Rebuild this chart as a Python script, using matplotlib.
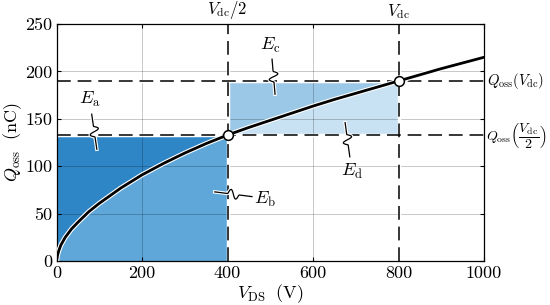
import numpy as np
import matplotlib
matplotlib.use("Agg")
import matplotlib.pyplot as plt
import matplotlib.patheffects as pe

plt.rcParams['font.family'] = 'serif'
plt.rcParams['font.serif'] = ['cmr10']
plt.rcParams['mathtext.fontset'] = 'cm'
plt.rcParams['axes.unicode_minus'] = False

# Qoss curve
vds = np.array([0, 2, 5, 10, 20, 35, 50, 75, 100, 150, 200, 250, 300, 350, 400,
                450, 500, 550, 600, 650, 700, 750, 800, 900, 1000])
qoss = np.array([0, 6, 11, 17, 25, 34, 41, 52, 61, 77, 91, 103, 114, 124, 133,
                 141, 148.5, 156, 163.5, 170.5, 177, 183.5, 190, 203, 215])

vdc = 800
vhalf = 400
q_half = 133
q_full = 190

xticks = [0, 200, 400, 600, 800, 1000]
yticks = [0, 50, 100, 150, 200, 250]

c_a = '#2f86c6'
c_b = '#5fa7d8'
c_c = '#9cc8e7'
c_d = '#c8e1f3'

fig = plt.figure(figsize=(5.5, 3.05), dpi=100)
ax = fig.add_axes([0.103, 0.144, 0.777, 0.777])
ax.set_xlim(0, 1000)
ax.set_ylim(0, 250)

left = vds <= vhalf
mid = (vds >= vhalf) & (vds <= vdc)
ax.fill_between(vds[left], qoss[left], q_half, color=c_a, lw=0)
ax.fill_between(vds[left], 0, qoss[left], color=c_b, lw=0)
ax.fill_between(vds[mid], qoss[mid], q_full, color=c_c, lw=0)
ax.fill_between(vds[mid], q_half, qoss[mid], color=c_d, lw=0)

ax.grid(True, color='k', alpha=0.25, lw=0.6)

dash = (0, (9, 4.5))
for q in [q_half, q_full]:
    ax.axhline(q, color='white', lw=2.5, zorder=2.2)
    ax.axhline(q, color='k', lw=1.1, ls=dash, zorder=2.3)
for v in [vhalf, vdc]:
    ax.axvline(v, color='white', lw=2.5, zorder=2.2)
    ax.axvline(v, color='k', lw=1.1, ls=dash, zorder=2.3)

ax.plot(vds, qoss, color='k', lw=2, zorder=3,
        path_effects=[pe.Stroke(linewidth=3.6, foreground='white'), pe.Normal()])
ax.plot([vhalf, vdc], [q_half, q_full], 'o', ms=7, mfc='white', mec='k', mew=1.1, zorder=4)


def squiggle(p0, p1, amp=4.5):
    # wavy leader between two data points, built in display space
    a = ax.transData.transform(p0)
    b = ax.transData.transform(p1)
    d = b - a
    n = np.array([-d[1], d[0]]) / np.hypot(*d)
    t = np.linspace(0, 1, 120)
    off = np.where((t > 0.35) & (t < 0.65), np.sin((t - 0.35) / 0.3 * 2 * np.pi), 0)
    pts = a[None, :] + t[:, None] * d[None, :] + amp * off[:, None] * n[None, :]
    pts = ax.transData.inverted().transform(pts)
    ax.plot(pts[:, 0], pts[:, 1], color='k', lw=0.9, zorder=5,
            path_effects=[pe.Stroke(linewidth=2.5, foreground='white'), pe.Normal()])


squiggle((82, 155), (94, 118))
squiggle((504, 213), (511, 176))
squiggle((686, 110), (675, 146))
squiggle((457, 68), (370, 73))

fs = 13
ax.text(78, 171, r'$E_{\mathrm{a}}$', fontsize=fs, ha='center', va='center', zorder=6)
ax.text(499, 227, r'$E_{\mathrm{c}}$', fontsize=fs, ha='center', va='center', zorder=6)
ax.text(691, 95, r'$E_{\mathrm{d}}$', fontsize=fs, ha='center', va='center', zorder=6)
ax.text(462, 65, r'$E_{\mathrm{b}}$', fontsize=fs, ha='left', va='center', zorder=6)

ax.text(vhalf, 253, r'$V_{\mathrm{dc}}/2$', fontsize=12, ha='center', va='bottom')
ax.text(vdc, 253, r'$V_{\mathrm{dc}}$', fontsize=12, ha='center', va='bottom')
ax.text(1007, q_full, r'$Q_{\mathrm{oss}}(V_{\mathrm{dc}})$', fontsize=10.5, ha='left', va='center')
ax.text(1005, q_half, r'$Q_{\mathrm{oss}}\left(\dfrac{V_{\mathrm{dc}}}{2}\right)$',
        fontsize=10, ha='left', va='center')

ax.set_xticks(xticks)
ax.set_yticks(yticks)
ax.tick_params(direction='in', top=True, right=True, length=3, labelsize=fs, pad=3)
for s in ax.spines.values():
    s.set_linewidth(0.9)

ax.set_xlabel(r'$V_{\mathrm{DS}}\ \ (\mathrm{V})$', fontsize=fs, labelpad=1)
ax.set_ylabel(r'$Q_{\mathrm{oss}}\ \ (\mathrm{nC})$', fontsize=fs, labelpad=1)

fig.savefig('out.png', dpi=100)
